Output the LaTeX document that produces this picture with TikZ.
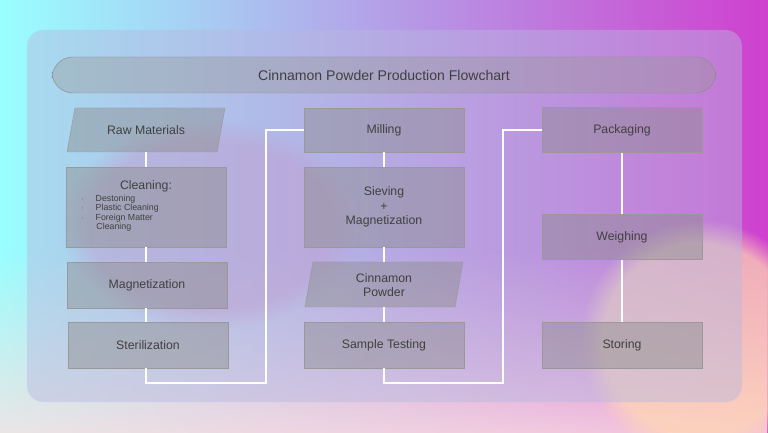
\documentclass[tikz,border=0pt]{standalone}
\usepackage{fontspec}
\setmainfont{Liberation Sans}
\usetikzlibrary{fadings}
\begin{document}
\begin{tikzpicture}[x=0.03cm,y=-0.03cm,
  box/.style={draw=black!40,fill=black!45,fill opacity=0.45,text opacity=1,text=black!75,font=\fontsize{10.5}{12.5}\selectfont,align=center},
  lbl/.style={text=black!75,font=\fontsize{10.5}{12.5}\selectfont,align=center},
  wl/.style={draw=white,line width=1.6pt}]
\useasboundingbox (0,0) rectangle (768,433);
% background
\shade[left color=cyan!40!white,right color=magenta!50!violet!75!white] (0,0) rectangle (768,433);
\fill[pink!50!white,opacity=0.8,path fading=north] (0,250) rectangle (768,433);
\fill[orange!30!white,opacity=0.7,path fading=circle with fuzzy edge 20 percent] (580,220) rectangle (820,460);
\fill[violet!45!white,opacity=0.5,path fading=circle with fuzzy edge 20 percent] (60,120) rectangle (360,330);
% panel
\fill[gray!60!blue!40,opacity=0.45,rounded corners=14] (27,30) rectangle (742,402);
% title
\node[draw=black!45,fill=black!40,fill opacity=0.4,text opacity=1,rounded corners=18,minimum width=664*0.03cm,minimum height=36*0.03cm,text=black!75,font=\fontsize{12}{14}\selectfont] (title) at (384,75) {Cinnamon Powder Production Flowchart};
% column 1
\draw[box] (75,108) -- (225,108) -- (217,152) -- (67,152) -- cycle;
\node[lbl] (raw) at (146,130) {Raw Materials};
\node[box,minimum width=160*0.03cm,minimum height=80*0.03cm] (clean) at (146,207) {};
\node[lbl] at (146,186) {Cleaning:};
\node[text=black!75,font=\fontsize{7.5}{8}\selectfont,align=left,anchor=north west,inner sep=0] at (81,195)
 {$\cdot$\hspace{10pt}Destoning\\ $\cdot$\hspace{10pt}Plastic Cleaning\\ $\cdot$\hspace{10pt}Foreign Matter\\ \hspace{13pt}Cleaning};
\node[box,minimum width=160*0.03cm,minimum height=46*0.03cm] (mag) at (147,285) {Magnetization};
\node[box,minimum width=160*0.03cm,minimum height=46*0.03cm] (ster) at (148,345) {Sterilization};
% column 2
\node[box,minimum width=160*0.03cm,minimum height=44*0.03cm] (mill) at (384,130) {Milling};
\node[box,minimum width=160*0.03cm,minimum height=80*0.03cm] (sieve) at (384,207) {Sieving\\+\\Magnetization};
\draw[box] (313,262) -- (463,262) -- (455,307) -- (305,307) -- cycle;
\node[lbl] (powder) at (384,285) {Cinnamon\\Powder};
\node[box,minimum width=160*0.03cm,minimum height=46*0.03cm] (test) at (384,345) {Sample Testing};
% column 3
\node[box,minimum width=160*0.03cm,minimum height=45*0.03cm] (pack) at (622,130) {Packaging};
\node[box,minimum width=160*0.03cm,minimum height=45*0.03cm] (weigh) at (622,237) {Weighing};
\node[box,minimum width=160*0.03cm,minimum height=46*0.03cm] (store) at (622,345) {Storing};
% connectors
\coordinate (c1) at (146,383); \coordinate (c2) at (266,383); \coordinate (c3) at (266,130);
\coordinate (d1) at (384,383); \coordinate (d2) at (503,383); \coordinate (d3) at (503,130);
\draw[wl] (146,152) -- (clean.north);
\draw[wl] (clean.south) -- (mag.north -| clean.south);
\draw[wl] (146,308) -- (146,322);
\draw[wl] (146,368) -- (c1) -- (c2) -- (c3) -- (mill.west);
\draw[wl] (mill.south) -- (sieve.north);
\draw[wl] (sieve.south) -- (384,262);
\draw[wl] (384,307) -- (test.north);
\draw[wl] (test.south) -- (d1) -- (d2) -- (d3) -- (pack.west);
\draw[wl] (pack.south) -- (weigh.north);
\draw[wl] (weigh.south) -- (store.north);
\end{tikzpicture}
\end{document}
